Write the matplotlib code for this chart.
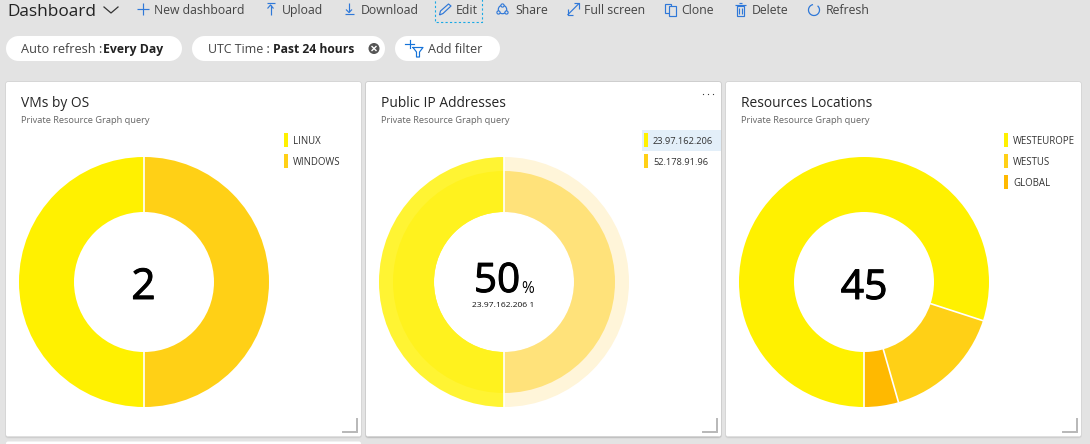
import numpy as np
import matplotlib
matplotlib.use("Agg")
import matplotlib.pyplot as plt
import matplotlib.patheffects as pe
from matplotlib.patches import FancyBboxPatch, Rectangle, Circle, Arc

plt.rcParams['font.family'] = ['Open Sans', 'DejaVu Sans']

W, H = 1090, 444
BG = '#e3e3e3'
YEL, AMB, ORG = '#fff100', '#ffd016', '#ffb900'
BLUE = '#2f78d8'

vm_labels = ['LINUX', 'WINDOWS']
vm_values = [1, 1]
ip_labels = ['23.97.162.206', '52.178.91.96']
ip_values = [1, 1]
loc_labels = ['WESTEUROPE', 'WESTUS', 'GLOBAL']
loc_values = [36, 7, 2]
toolbar_items = ['New dashboard', 'Upload', 'Download', 'Edit', 'Share', 'Full screen', 'Clone', 'Delete', 'Refresh']
toolbar_x = [154, 281.5, 360.5, 456, 515, 584, 681, 752, 826]

fig = plt.figure(figsize=(W / 100, H / 100), dpi=100, facecolor=BG)
bg = fig.add_axes([0, 0, 1, 1], zorder=0)
bg.set_xlim(0, W); bg.set_ylim(H, 0); bg.axis('off')
top = fig.add_axes([0, 0, 1, 1], zorder=5)
top.set_xlim(0, W); top.set_ylim(H, 0); top.axis('off'); top.patch.set_alpha(0)

def txt(x, y, s, px, color='#333333', ax=top, **kw):
    kw.setdefault('va', 'baseline')
    return ax.text(x, y, s, fontsize=px * 0.72, color=color, **kw)

def big(x, y, s, px):
    t = txt(x, y, s, px, '#000000', ha='center')
    t.set_path_effects([pe.withStroke(linewidth=0.7, foreground='#000000')])

def pill(x0, x1, y0, y1):
    r = (y1 - y0) / 2
    bg.add_patch(Rectangle((x0 + r, y0), x1 - x0 - 2 * r, y1 - y0, fc='white', ec='none'))
    bg.add_patch(Circle((x0 + r, y0 + r), r, fc='white', ec='none'))
    bg.add_patch(Circle((x1 - r, y0 + r), r, fc='white', ec='none'))

# toolbar
txt(7, 16, 'Dashboard', 17.2, '#222222')
top.plot([104, 111, 118], [7, 13, 7], color='#333333', lw=0.9)
for s, x in zip(toolbar_items, toolbar_x):
    txt(x, 14, s, 12.3, '#444444')
L = dict(color=BLUE, lw=0.85, solid_capstyle='butt')
top.plot([142.5, 142.5], [3.5, 15], **L); top.plot([137, 148.5], [9, 9], **L)
top.plot([266.5, 274.5], [3.5, 3.5], **L); top.plot([270.5, 270.5], [5, 15], **L); top.plot([267.5, 270.5, 273.5], [8.5, 5, 8.5], **L)
top.plot([345, 353.5], [14.5, 14.5], **L); top.plot([349, 349], [3, 12.5], **L); top.plot([346, 349, 352], [9.5, 12.5, 9.5], **L)
top.plot([439.5, 440.5, 448.5, 451, 443, 439.5], [15, 11, 4, 6, 13.5, 15], **L)
top.add_patch(Rectangle((434.5, -1), 47, 23.5, fc='none', ec='#19a9e5', lw=0.8, ls=(0, (2, 2))))
top.add_patch(Circle((502.5, 9.5), 4.2, fc='none', ec=BLUE, lw=0.85))
for cx, cy in [(502.5, 5.5), (498.5, 12.5), (506.5, 12.5)]:
    top.add_patch(Circle((cx, cy), 1.6, fc=BG, ec=BLUE, lw=0.8))
top.plot([567.5, 579], [15, 3.5], **L); top.plot([573.5, 579, 579], [3.5, 3.5, 9], **L); top.plot([567.5, 567.5, 573], [9.5, 15, 15], **L)
top.add_patch(Rectangle((664.5, 4), 6.5, 9, fc='none', ec=BLUE, lw=0.85)); top.add_patch(Rectangle((668.5, 6.5), 7, 9.5, fc=BG, ec=BLUE, lw=0.85))
top.add_patch(Rectangle((736.5, 6), 7.5, 10, fc='none', ec=BLUE, lw=0.85)); top.plot([735, 745.5], [5, 5], **L); top.plot([738.5, 742], [3.5, 3.5], **L)
top.plot([739, 739], [8, 14], **L); top.plot([741.5, 741.5], [8, 14], **L)
top.add_patch(Arc((814, 10), 11, 11, theta1=-50, theta2=260, color=BLUE, lw=0.9))

# filter pills
pill(6, 182, 36, 61)
pill(192, 385, 36, 61)
pill(395, 500, 36, 61)
txt(21, 53, 'Auto refresh : ', 12.7, '#444444')
txt(103, 53, 'Every Day', 12.2, '#222222', fontweight='bold')
txt(208, 53, 'UTC Time : ', 12.4, '#444444')
txt(273, 53, 'Past 24 hours', 12.1, '#222222', fontweight='bold')
top.add_patch(Circle((374, 48.5), 5.5, fc='#555555', ec='none'))
top.plot([372, 376], [46.5, 50.5], color='white', lw=1); top.plot([372, 376], [50.5, 46.5], color='white', lw=1)
txt(428, 53, 'Add filter', 12.6, '#444444')
top.plot([405, 414], [44, 44], color='#1572d8', lw=0.85); top.plot([409.5, 409.5], [40.5, 48], color='#1572d8', lw=0.85)
top.plot([413, 423, 419.5, 419.5, 416.5, 416.5, 413], [47.5, 47.5, 52, 57, 57, 52, 47.5], color='#1572d8', lw=0.85)

# cards
def card(x0, title, labels, colors, highlight=False, shadow=0.035, label_px=9.7):
    y0, y1, x1 = 82, 436.5, x0 + 355
    for d in range(1, 7):
        bg.add_patch(FancyBboxPatch((x0 + 2 - d / 2, y0 + 2 - d / 2), 355 - 4 + d, y1 - y0 - 4 + d + 1,
                                    boxstyle='round,pad=0,rounding_size=3', fc='black', ec='none', alpha=shadow))
    bg.add_patch(FancyBboxPatch((x0, y0), 355, y1 - y0, boxstyle='round,pad=0,rounding_size=2', fc='white', ec='none'))
    txt(x0 + 15, 107, title, 13.7, '#252525')
    txt(x0 + 15, 122.7, 'Private Resource Graph query', 9.3, '#666666')
    for i, (lab, c) in enumerate(zip(labels, colors)):
        yc = 140 + i * 21
        if highlight and i == 0:
            top.add_patch(Rectangle((x1 - 79, 130), 79, 21, fc='#e3eff9', ec='none', zorder=0))
        top.add_patch(Rectangle((x1 - 77, yc - 7), 4, 14, fc=c, ec='none', zorder=2))
        txt(x1 - 68, yc + 4, lab, label_px, '#333333')
    top.plot([x1 - 18, x1 - 4, x1 - 4], [431.5, 431.5, 418.5], color='#b8b8b8', lw=1.4, solid_joinstyle='miter')

def donut_ax(cx, cy=282, r=125):
    a = fig.add_axes([(cx - r) / W, 1 - (cy + r) / H, 2 * r / W, 2 * r / H], zorder=3)
    a.axis('off')
    return a

def finish(a, values):
    """White radial separators at the slice boundaries, taken from the values."""
    fractions = np.cumsum(values) / np.sum(values)
    for f in fractions:
        theta = np.deg2rad(270 - 360 * f)
        a.plot([0.555 * np.cos(theta), 1.005 * np.cos(theta)],
               [0.555 * np.sin(theta), 1.005 * np.sin(theta)], color='white', lw=1.2, solid_capstyle='butt', zorder=8)
    a.set_xlim(-1, 1); a.set_ylim(-1, 1); a.set_aspect('equal')

RING = {'startangle': 270, 'counterclock': False, 'frame': True}

card(6, 'VMs by OS', vm_labels, [YEL, AMB])
a = donut_ax(144)
a.pie(vm_values, colors=[YEL, AMB], radius=1, wedgeprops=dict(width=0.44, lw=0), **RING)
finish(a, vm_values)
big(143.5, 299, '2', 42.5)

card(366, 'Public IP Addresses', ip_labels, [YEL, AMB], highlight=True, shadow=0.06, label_px=9.3)
a = donut_ax(504)
a.pie(ip_values, colors=['#fff433', '#fff5d9'], radius=1, wedgeprops=dict(width=0.44, lw=0), **RING)
a.pie(ip_values, colors=['#fff21e', '#ffe27a'], radius=0.888, wedgeprops=dict(width=0.328, lw=0), **RING)
finish(a, ip_values)
big(497, 292, '50', 40.5)
txt(527.5, 293, '%', 15.5, '#000000', ha='center')
txt(503, 307, '23.97.162.206 1', 8.5, '#111111', ha='center')
top.plot([703, 708, 713], [94, 94, 94], ls='none', marker='o', ms=0.9, mew=0, color='#333333')

card(726, 'Resources Locations', loc_labels, [YEL, AMB, ORG])
a = donut_ax(864)
a.pie(loc_values, colors=[YEL, AMB, ORG], radius=1, wedgeprops=dict(width=0.44, lw=0), **RING)
finish(a, loc_values)
big(864, 299, '45', 41)

# top of the next row
bg.add_patch(FancyBboxPatch((6, 441.5), 355, 10, boxstyle='round,pad=0,rounding_size=2', fc='white', ec='none'))

fig.savefig('out.png', dpi=100, facecolor=BG)
